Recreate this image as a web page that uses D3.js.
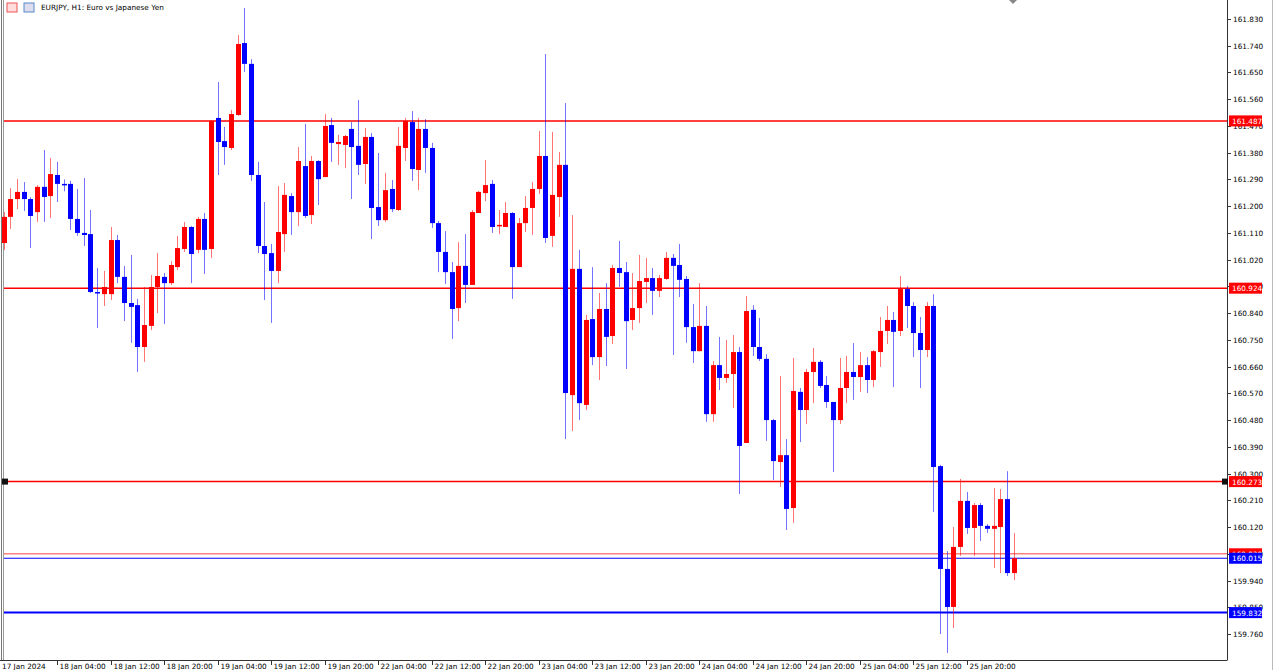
<meta charset="utf-8">
<script src="https://d3js.org/d3.v7.min.js"></script>
<style>
    body { margin: 0; background: #fff; }
    text { font-family: "DejaVu Sans", sans-serif; font-size: 7.3px; }
</style>
<svg width="1280" height="670"></svg>
<script>
    // EURJPY H1 candles [open, high, low, close]
    var candles = [
        [161.076,161.180,161.053,161.164],[161.164,161.261,161.123,161.224],[161.224,161.291,161.190,161.248],
        [161.248,161.281,161.184,161.224],[161.224,161.230,161.059,161.167],[161.180,161.271,161.147,161.265],
        [161.265,161.389,161.147,161.231],[161.234,161.362,161.160,161.308],[161.305,161.349,161.214,161.275],
        [161.275,161.290,161.250,161.272],[161.275,161.285,161.120,161.157],[161.157,161.258,161.100,161.110],
        [161.110,161.295,161.066,161.103],[161.106,161.187,160.908,160.911],[160.911,160.992,160.790,160.908],
        [160.904,160.982,160.864,160.928],[160.904,161.130,160.884,161.086],[161.086,161.103,160.941,160.962],
        [160.962,160.999,160.813,160.874],[160.874,161.036,160.740,160.861],[160.867,160.888,160.642,160.726],
        [160.726,160.928,160.676,160.800],[160.797,160.968,160.783,160.928],[160.928,161.042,160.840,160.965],
        [160.962,160.975,160.803,160.941],[160.941,161.015,160.935,161.002],[160.995,161.100,160.985,161.059],
        [161.056,161.147,161.046,161.130],[161.130,161.133,160.941,161.039],[161.053,161.164,161.042,161.157],
        [161.157,161.177,160.972,161.053],[161.056,161.490,161.026,161.487],[161.497,161.618,161.305,161.416],
        [161.419,161.467,161.339,161.399],[161.396,161.524,161.389,161.510],[161.507,161.776,161.504,161.746],
        [161.749,161.867,161.652,161.679],[161.679,161.695,161.285,161.305],[161.305,161.349,161.042,161.066],
        [161.066,161.214,160.884,161.039],[161.042,161.073,160.807,160.982],[160.982,161.268,160.941,161.113],
        [161.106,161.278,161.046,161.238],[161.234,161.244,161.103,161.180],[161.180,161.399,161.133,161.352],
        [161.335,161.477,161.160,161.167],[161.170,161.369,161.140,161.352],[161.352,161.355,161.204,161.291],
        [161.298,161.510,161.298,161.470],[161.473,161.497,161.349,161.413],[161.409,161.440,161.339,161.416],
        [161.406,161.440,161.328,161.436],[161.460,161.483,161.224,161.399],[161.403,161.557,161.305,161.339],
        [161.342,161.463,161.275,161.433],[161.433,161.446,161.089,161.194],[161.197,161.379,161.133,161.153],
        [161.153,161.312,161.147,161.254],[161.258,161.288,161.180,161.190],[161.187,161.466,161.184,161.403],
        [161.396,161.497,161.352,161.487],[161.483,161.520,161.285,161.325],[161.322,161.497,161.254,161.460],
        [161.460,161.493,161.312,161.396],[161.396,161.413,161.127,161.143],[161.143,161.150,160.978,161.046],
        [161.046,161.116,160.938,160.978],[160.978,161.012,160.753,160.854],[160.857,161.079,160.813,160.999],
        [160.999,161.106,160.874,160.935],[160.935,161.187,160.935,161.180],[161.177,161.251,161.177,161.248],
        [161.244,161.355,161.217,161.271],[161.275,161.288,161.110,161.130],[161.133,161.187,161.106,161.137],
        [161.130,161.214,161.130,161.177],[161.177,161.180,160.888,160.995],[160.995,161.160,160.995,161.143],
        [161.143,161.234,161.113,161.194],[161.194,161.281,161.103,161.258],[161.258,161.453,161.241,161.369],
        [161.369,161.712,161.076,161.093],[161.100,161.450,161.063,161.238],[161.231,161.382,161.164,161.339],
        [161.339,161.547,160.416,160.571],[160.564,161.170,160.443,160.989],[160.989,161.053,160.480,160.537],
        [160.531,160.834,160.514,160.817],[160.820,160.995,160.665,160.692],[160.692,160.908,160.615,160.854],
        [160.854,160.941,160.662,160.760],[160.763,161.002,160.736,160.992],[160.992,161.083,160.928,160.975],
        [160.978,161.012,160.652,160.813],[160.817,160.975,160.783,160.857],[160.857,161.036,160.807,160.948],
        [160.945,161.026,160.874,160.958],[160.958,160.992,160.834,160.915],[160.915,160.968,160.894,160.958],
        [160.955,161.046,160.952,161.026],[161.026,161.039,160.699,160.999],[161.002,161.073,160.894,160.952],
        [160.955,160.965,160.740,160.793],[160.793,160.871,160.672,160.712],[160.712,160.941,160.712,160.797],
        [160.797,160.864,160.474,160.500],[160.500,160.679,160.474,160.665],[160.665,160.760,160.581,160.622],
        [160.622,160.750,160.605,160.635],[160.635,160.766,160.521,160.709],[160.709,160.726,160.231,160.393],
        [160.403,160.898,160.403,160.847],[160.851,160.867,160.696,160.726],[160.726,160.824,160.679,160.686],
        [160.686,160.702,160.410,160.480],[160.480,160.484,160.278,160.342],[160.339,160.628,160.255,160.362],
        [160.362,160.416,160.110,160.181],[160.184,160.689,160.134,160.578],[160.575,160.588,160.406,160.514],
        [160.514,160.652,160.467,160.642],[160.642,160.723,160.537,160.676],[160.676,160.682,160.588,160.595],
        [160.598,160.628,160.521,160.541],[160.541,160.541,160.305,160.480],[160.480,160.689,160.467,160.588],
        [160.588,160.696,160.537,160.642],[160.642,160.739,160.548,160.625],[160.625,160.709,160.575,160.665],
        [160.665,160.692,160.571,160.615],[160.615,160.716,160.591,160.712],[160.709,160.827,160.659,160.780],
        [160.780,160.864,160.736,160.817],[160.817,160.844,160.591,160.777],[160.780,160.965,160.763,160.921],
        [160.921,160.931,160.790,160.864],[160.864,160.877,160.692,160.773],[160.773,160.827,160.588,160.716],
        [160.716,160.877,160.692,160.864],[160.864,160.904,160.171,160.322],[160.325,160.329,159.760,159.979],
        [159.979,160.039,159.696,159.851],[159.851,160.120,159.780,160.053],[160.053,160.282,160.023,160.208],
        [160.208,160.238,160.097,160.117],[160.117,160.201,160.023,160.194],[160.194,160.201,160.073,160.124],
        [160.124,160.130,160.100,160.114],[160.114,160.251,159.982,160.124],[160.120,160.248,159.965,160.214],
        [160.214,160.308,159.955,159.965],[159.965,160.100,159.941,160.015]
    ];

    var timeLabels = ["17 Jan 2024","18 Jan 04:00","18 Jan 12:00","18 Jan 20:00","19 Jan 04:00","19 Jan 12:00",
        "19 Jan 20:00","22 Jan 04:00","22 Jan 12:00","22 Jan 20:00","23 Jan 04:00","23 Jan 12:00","23 Jan 20:00",
        "24 Jan 04:00","24 Jan 12:00","24 Jan 20:00","25 Jan 04:00","25 Jan 12:00","25 Jan 20:00"];

    var priceTicks = d3.range(0, 24).map(function(k) { return +(161.830 - 0.09 * k).toFixed(3); });

    // horizontal levels
    var levels = [
        {p: 161.487, c: "#ff0000", w: 1.5, label: "#ff0000"},
        {p: 160.924, c: "#ff0000", w: 1.5, label: "#ff0000"},
        {p: 160.273, c: "#ff0000", w: 1.5, label: "#ff0000"},
        {p: 160.030, c: "#ff8080", w: 1.5, label: "#ff0000"},
        {p: 160.015, c: "#0000ff", w: 1, label: "#0000ff"},
        {p: 159.832, c: "#0000ff", w: 2, label: "#0000ff"}
    ];

    var svg = d3.select("svg");
    var plotRight = 1227, plotBottom = 660;

    var y = d3.scaleLinear().domain([159.760, 161.830]).range([634, 19]);
    var x = d3.scaleLinear().domain([0, 1]).range([3.5, 3.5 + 6.69]);

    // frame
    svg.append("line").attr("x1", 1.5).attr("x2", 1.5).attr("y1", 0).attr("y2", plotBottom).attr("stroke", "#777");
    svg.append("line").attr("x1", 3.5).attr("x2", 3.5).attr("y1", 0).attr("y2", plotBottom).attr("stroke", "#999");
    svg.append("line").attr("x1", plotRight + 0.5).attr("x2", plotRight + 0.5).attr("y1", 0).attr("y2", plotBottom + 0.5).attr("stroke", "#333");
    svg.append("line").attr("x1", 0).attr("x2", plotRight).attr("y1", plotBottom + 0.5).attr("y2", plotBottom + 0.5).attr("stroke", "#333");
    svg.append("line").attr("x1", 1272.5).attr("x2", 1272.5).attr("y1", 0).attr("y2", 670).attr("stroke", "#bbb");

    // title
    var ic = svg.append("g").attr("transform", "translate(7,3)");
    ic.append("rect").attr("width", 10).attr("height", 9).attr("fill", "#fdd").attr("stroke", "#e55");
    ic.append("rect").attr("x", 17).attr("width", 10).attr("height", 9).attr("fill", "#dde").attr("stroke", "#58c");
    svg.append("text").attr("x", 41).attr("y", 10).attr("fill", "#000").text("EURJPY, H1:  Euro vs Japanese Yen");

    // levels
    svg.selectAll(".lvl").data(levels).enter().append("line")
        .attr("x1", 4).attr("x2", plotRight)
        .attr("y1", function(d) { return y(d.p); }).attr("y2", function(d) { return y(d.p); })
        .attr("stroke", function(d) { return d.c; }).attr("stroke-width", function(d) { return d.w; });
    [5, 1225].forEach(function(px) {
        svg.append("rect").attr("x", px - 3).attr("y", y(160.273) - 3).attr("width", 6).attr("height", 6).attr("fill", "#111");
    });

    // candles
    var cg = svg.append("g");
    candles.forEach(function(d, i) {
        var cx = Math.round(x(i)) + 0.5, up = d[3] >= d[0];
        var col = up ? "#ff0000" : "#0000ff";
        cg.append("line").attr("x1", cx).attr("x2", cx).attr("y1", y(d[1])).attr("y2", y(d[2]))
            .attr("stroke", col).attr("stroke-opacity", 0.55).attr("stroke-width", 1);
        var top = y(Math.max(d[0], d[3])), bot = y(Math.min(d[0], d[3]));
        cg.append("rect").attr("x", cx - 2.5).attr("y", top).attr("width", 5).attr("height", Math.max(1.5, bot - top)).attr("fill", col);
    });

    // price axis
    var pa = svg.append("g");
    priceTicks.forEach(function(p) {
        pa.append("line").attr("x1", plotRight).attr("x2", plotRight + 4).attr("y1", Math.round(y(p)) + 0.5).attr("y2", Math.round(y(p)) + 0.5).attr("stroke", "#333");
        pa.append("text").attr("x", 1233).attr("y", y(p) + 3).attr("fill", "#000").text(p.toFixed(3));
    });
    levels.forEach(function(d) {
        pa.append("rect").attr("x", 1229).attr("y", y(d.p) - 5.5).attr("width", 33).attr("height", 11).attr("fill", d.label);
        pa.append("text").attr("x", 1232).attr("y", y(d.p) + 3).attr("fill", "#fff").text(d.p.toFixed(3));
    });

    // time axis
    timeLabels.forEach(function(t, k) {
        var px = Math.round(x(k * 8)) + 0.5;
        if (k > 0) svg.append("line").attr("x1", px).attr("x2", px).attr("y1", plotBottom).attr("y2", plotBottom + 5).attr("stroke", "#333");
        svg.append("text").attr("x", k > 0 ? px + 2 : 2).attr("y", 669).attr("fill", "#000").text(t);
    });

    // small marker at top
    svg.append("path").attr("d", "M1009,0 L1017,0 L1013,4 Z").attr("fill", "#888");
</script>
